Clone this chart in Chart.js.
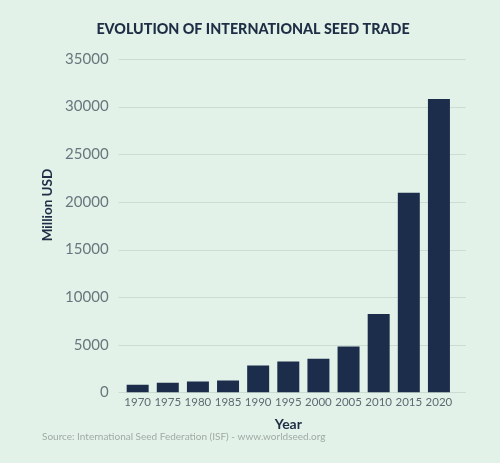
<!DOCTYPE html>
<html>
<head>
<meta charset="utf-8">
<script src="https://cdn.jsdelivr.net/npm/chart.js@4"></script>
<style>
    html, body { margin: 0; padding: 0; background: #e3f2e9; }
    #wrap { width: 500px; height: 463px; }
</style>
</head>
<body>
<div id="wrap"><canvas id="seedChart"></canvas></div>
<script>

const years = ["1970", "1975", "1980", "1985", "1990", "1995", "2000", "2005", "2010", "2015", "2020"];
const tradeValues = [810, 1020, 1150, 1260, 2830, 3250, 3540, 4830, 8220, 20950, 30800];
const yTicks = [0, 5000, 10000, 15000, 20000, 25000, 30000, 35000];

const titleText = "EVOLUTION OF INTERNATIONAL SEED TRADE";
const sourceText = "Source: International Seed Federation (ISF) - www.worldseed.org";

/* ==========================
   EXTRA DRAWING
========================== */

const gridAndText = {
    id: "gridAndText",

    beforeDatasetsDraw(chart) {
        const ctx = chart.ctx;
        const y = chart.scales.y;
        const area = chart.chartArea;

        ctx.save();
        ctx.strokeStyle = "#cbdcd2";
        ctx.lineWidth = 1;
        yTicks.forEach(v => {
            const py = Math.round(y.getPixelForValue(v)) + 0.5;
            ctx.beginPath();
            ctx.moveTo(area.left - 4, py);
            ctx.lineTo(466, py);
            ctx.stroke();
        });
        ctx.restore();
    },

    afterDraw(chart) {
        const ctx = chart.ctx;

        ctx.save();
        ctx.fillStyle = "#1e2e45";
        ctx.font = "900 14.3px Lato";
        ctx.textAlign = "center";
        ctx.textBaseline = "middle";
        ctx.fillText(titleText, 253, 29);
        ctx.restore();

        ctx.save();
        ctx.fillStyle = "#1e2e45";
        ctx.font = "bold 13.5px Lato";
        ctx.textAlign = "center";
        ctx.textBaseline = "middle";
        ctx.translate(48, 205);
        ctx.rotate(-Math.PI / 2);
        ctx.fillText("Million USD", 0, 0);
        ctx.restore();

        ctx.save();
        ctx.fillStyle = "#9eaaa4";
        ctx.font = "10px Lato";
        ctx.textBaseline = "middle";
        ctx.fillText(sourceText, 42, 437);
        ctx.restore();
    }
};

new Chart(document.getElementById("seedChart"), {

    type: "bar",

    data: {
        labels: years,
        datasets: [{
            data: tradeValues,
            backgroundColor: "#1b2d4b",
            borderWidth: 0,
            categoryPercentage: 1,
            barPercentage: 0.73
        }]
    },

    options: {
        responsive: true,
        maintainAspectRatio: false,
        animation: false,
        layout: {
            padding: { left: 0, right: 46, top: 59, bottom: 22 }
        },
        plugins: {
            legend: { display: false },
            tooltip: { enabled: false },
            title: { display: false }
        },
        scales: {
            x: {
                grid: { display: false, drawTicks: false },
                border: { display: false },
                ticks: {
                    color: "#5d6a72",
                    font: { family: "Lato", size: 11.5 },
                    padding: 3,
                    maxRotation: 0,
                    autoSkip: false
                },
                title: {
                    display: true,
                    text: "Year",
                    color: "#1e2e45",
                    font: { family: "Lato", size: 14, weight: "bold" },
                    padding: { top: 4, bottom: 8 }
                }
            },
            y: {
                min: 0,
                max: 35000,
                afterFit(scale) { scale.width = 122.6; },
                afterBuildTicks(scale) {
                    scale.ticks = yTicks.map(v => ({ value: v }));
                },
                grid: { display: false, drawTicks: false },
                border: { display: false },
                ticks: {
                    color: "#6a767d",
                    font: { family: "Lato", size: 15 },
                    padding: 14,
                    callback: v => String(v)
                }
            }
        }
    },

    plugins: [gridAndText]
});
</script>
</body>
</html>
